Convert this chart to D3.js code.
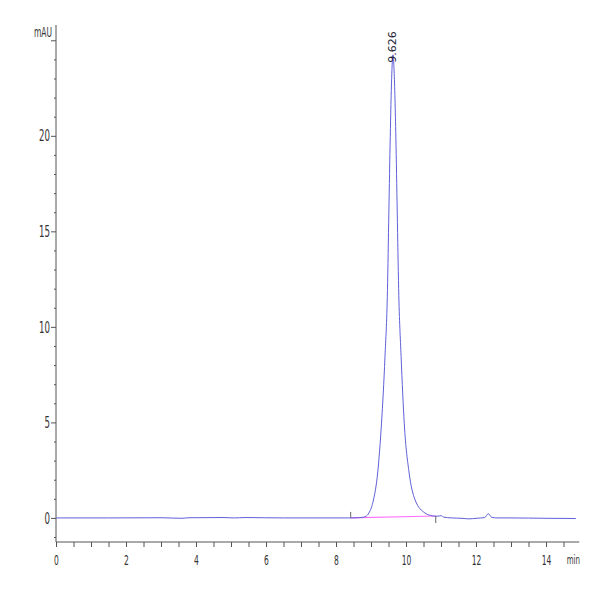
<!DOCTYPE html>
<html>
<head>
<meta charset="utf-8">
<script src="https://cdn.jsdelivr.net/npm/d3@7"></script>
<style>
	body { margin: 0; background: #fff; }
	svg { display: block; }
	text { font-family: "DejaVu Sans Condensed", "Liberation Sans", sans-serif; }
</style>
</head>
<body>
<svg width="600" height="600"></svg>
<script>
// chromatogram trace (min, mAU)
const timeMin = [0, 1.5, 3.0, 3.6, 3.8, 4.8, 5.1, 5.4, 6.5, 8.0, 8.42, 8.6, 8.75, 8.85, 8.94, 9.07, 9.19, 9.30, 9.40,
	9.47, 9.51, 9.55, 9.59, 9.626, 9.66, 9.71, 9.75, 9.79, 9.86, 9.95, 10.09, 10.26, 10.54, 10.7, 10.85,
	10.95, 11.0, 11.08, 11.3, 11.6, 11.8, 12.0, 12.25, 12.35, 12.45, 12.6, 13.0, 14.0, 14.85];
const absorbance = [0, 0, 0.01, -0.02, 0.01, 0.02, 0, 0.02, 0, 0, 0, 0.01, 0.03, 0.08, 0.26, 0.94, 2.35, 4.96, 8.45,
	11.9, 15.97, 19.95, 23.0, 24.24, 23.4, 19.95, 15.97, 12.0, 8.45, 4.96, 2.35, 0.94, 0.26, 0.13, 0.09,
	0.1, 0.12, 0.04, 0.0, -0.02, -0.05, -0.02, 0.02, 0.22, 0.03, 0.0, 0.0, -0.02, -0.03];

// integration baseline under the main peak
const baselineTime = [8.42, 10.85];
const baselineValue = [0.0, 0.1];

const peakTime = 9.626;
const peakHeight = 24.24;
const peakLabel = "9.626";

const xTickLabels = [0, 2, 4, 6, 8, 10, 12, 14];
const yTickLabels = [0, 5, 10, 15, 20];

const svg = d3.select("svg");

const x = d3.scaleLinear().domain([0, 15]).range([56, 581]);
const y = d3.scaleLinear().domain([-1.26, 25.8]).range([542, 25]);

const axisColor = "#555";
const squeeze = 0.6; // the labels are drawn in a very narrow face

// x axis
const xAxis = d3.axisBottom(x)
	.tickValues(d3.range(0, 14.96, 0.5))
	.tickSize(5)
	.tickSizeOuter(0)
	.tickFormat(d => xTickLabels.includes(d) ? d : "");

const gx = svg.append("g")
	.attr("transform", "translate(0," + y(-1.26) + ")")
	.call(xAxis);
gx.select(".domain").attr("d", "M" + x(0) + ",0H" + x(14.95));

// y axis: minor ticks every 1, major every 5
const gyMinor = svg.append("g")
	.attr("transform", "translate(" + x(0) + ",0)")
	.call(d3.axisLeft(y)
		.tickValues(d3.range(-1, 26, 1).filter(d => d % 5 !== 0))
		.tickSize(2)
		.tickSizeOuter(0)
		.tickFormat(""));
gyMinor.select(".domain").remove();

const gy = svg.append("g")
	.attr("transform", "translate(" + x(0) + ",0)")
	.call(d3.axisLeft(y)
		.tickValues([0, 5, 10, 15, 20, 25])
		.tickSize(5)
		.tickSizeOuter(0)
		.tickFormat(d => yTickLabels.includes(d) ? d : ""));
gy.select(".domain").attr("d", "M0," + y(25.8) + "V" + y(-1.26));

svg.selectAll(".tick line, .domain").attr("stroke", axisColor);
svg.selectAll(".tick text")
	.attr("fill", "#333")
	.style("font-family", "'DejaVu Sans Condensed', sans-serif");

gx.selectAll(".tick text")
	.attr("font-size", 14)
	.attr("y", 0)
	.attr("dy", 0)
	.attr("transform", "translate(0,23) scale(" + squeeze + ",1)");

gy.selectAll(".tick text")
	.attr("font-size", 16)
	.attr("x", -6 / squeeze)
	.attr("transform", "scale(" + squeeze + ",1)");

// unit labels
svg.append("text")
	.attr("transform", "translate(52," + (y(25) - 3) + ") scale(" + squeeze + ",1)")
	.attr("text-anchor", "end")
	.attr("font-size", 14)
	.attr("fill", "#333")
	.text("mAU");

svg.append("text")
	.attr("transform", "translate(580,564) scale(" + squeeze + ",1)")
	.attr("text-anchor", "end")
	.attr("font-size", 13)
	.attr("fill", "#333")
	.text("min");

// baseline of integration
const baseline = baselineTime.map((t, i) => [t, baselineValue[i]]);
svg.append("path")
	.datum(baseline)
	.attr("fill", "none")
	.attr("stroke", "#ff70ff")
	.attr("stroke-width", 1.2)
	.attr("d", d3.line().x(d => x(d[0])).y(d => y(d[1])));

// trace
const trace = timeMin.map((t, i) => [t, absorbance[i]]);
svg.append("path")
	.datum(trace)
	.attr("fill", "none")
	.attr("stroke", "#6060d8")
	.attr("stroke-width", 1)
	.attr("d", d3.line().curve(d3.curveMonotoneX).x(d => x(d[0])).y(d => y(d[1])));

// peak start / end markers
svg.append("line")
	.attr("x1", x(baselineTime[0])).attr("x2", x(baselineTime[0]))
	.attr("y1", y(baselineValue[0]) - 6).attr("y2", y(baselineValue[0]))
	.attr("stroke", "#666");
svg.append("line")
	.attr("x1", x(baselineTime[1])).attr("x2", x(baselineTime[1]))
	.attr("y1", y(baselineValue[1])).attr("y2", y(baselineValue[1]) + 7)
	.attr("stroke", "#666");

// retention time label
svg.append("text")
	.attr("transform", "translate(" + x(peakTime) + "," + (y(peakHeight) + 8) + ") rotate(-90)")
	.attr("text-anchor", "start")
	.attr("dominant-baseline", "middle")
	.attr("font-size", 11)
	.attr("fill", "#223")
	.style("font-family", "'DejaVu Sans', sans-serif")
	.text(peakLabel);
</script>
</body>
</html>
